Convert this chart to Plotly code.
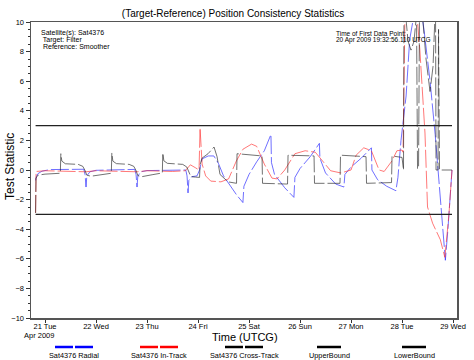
import pandas as pd
import plotly.graph_objects as go

# ---- data (time = fractional day of April 2009, UTCG) ----
radial_t = [20.815, 20.83, 20.86, 20.94, 21.1, 21.5, 21.76, 21.785, 21.804, 21.82, 21.88, 22.0,
            22.4, 22.76, 22.785, 22.804, 22.82, 22.88, 23.0, 23.4, 23.76, 23.785, 23.804, 23.82,
            23.88, 23.98, 24.03, 24.08, 24.2, 24.31, 24.4, 24.5, 24.65, 24.76, 24.88, 24.9, 25.0,
            25.15, 25.3, 25.43, 25.44, 25.5, 25.7, 25.88, 25.9, 26.0, 26.2, 26.38, 26.39, 26.5,
            26.7, 26.86, 26.88, 27.0, 27.2, 27.4, 27.41, 27.52, 27.7, 27.88, 27.92, 27.98, 28.08,
            28.15, 28.25, 28.35, 28.43, 28.55, 28.65, 28.75, 28.85, 28.9, 28.98]
radial_v = [-0.7, -0.45, -0.25, -0.08, 0.03, 0.05, 0.05, -0.3, -1.15, -0.4, -0.12, -0.02,
            0.03, 0.04, -0.3, -1.15, -0.4, -0.12, -0.04, 0.0, 0.0, -0.4, -1.55, -0.7,
            -0.45, -0.4, 0.0, 0.75, 0.95, 0.95, 0.45, -0.4, -1.2, -1.7, -2.2, -1.1, -0.3,
            0.55, 1.3, 2.4, 0.5, -0.3, -1.2, -1.85, -0.5, 0.1, 0.9, 1.8, 0.8, -0.2,
            -0.95, -1.15, -0.3, 0.2, 0.8, 1.5, 0.0, -0.65, -1.1, -1.4, -0.5, 2.0, 5.0,
            8.8, 10.8, 11.5, 9.5, 6.0, 2.4, -2.0, -6.1, -4.0, 0.0]

intrack_t = [20.815, 20.825, 21.0, 21.5, 21.8, 22.0, 22.5, 22.8, 23.0, 23.5, 23.75, 23.85,
             23.95, 24.02, 24.04, 24.08, 24.15, 24.25, 24.45, 24.6, 24.75, 24.88, 25.05, 25.15,
             25.3, 25.45, 25.55, 25.7, 25.9, 26.1, 26.3, 26.45, 26.6, 26.8, 27.0, 27.1, 27.25,
             27.4, 27.55, 27.65, 27.8, 27.9, 28.0, 28.02, 28.06, 28.28, 28.35, 28.45, 28.5,
             28.6, 28.75, 28.84, 28.92, 28.98]
intrack_v = [-2.9, -0.1, -0.05, -0.1, -0.12, -0.05, -0.1, -0.12, -0.05, -0.1, -0.05, 0.35,
             0.15, 0.0, 2.85, 0.4, -0.4, -0.75, -0.8, -0.6, 0.6, 1.4, 1.75, 1.6,
             0.4, -0.55, -0.6, 0.0, 1.1, 1.3, 1.2, 0.6, -0.05, -0.2, 0.0, 1.0, 1.5,
             1.3, 0.0, -0.1, 0.6, 1.3, 1.35, 1.2, 11.0, 11.0, 8.1, 2.5, -2.5,
             -3.6, -4.7, -5.9, -3.0, 0.0]

crosstrack_t = [20.815, 20.823, 20.86, 21.0, 21.30, 21.31, 21.33, 21.40, 21.65, 21.74, 21.78, 21.82,
                21.90, 22.10, 22.30, 22.31, 22.33, 22.40, 22.65, 22.74, 22.78, 22.82, 22.90, 23.10,
                23.30, 23.31, 23.33, 23.40, 23.70, 23.78, 23.82, 23.86, 23.95, 24.03, 24.04, 24.078,
                24.196, 24.314, 24.373, 24.431, 24.588, 24.755, 24.765, 25.255, 25.265, 25.755,
                25.765, 26.275, 26.284, 26.784, 26.794, 27.294, 27.304, 27.794, 27.804, 28.0,
                28.029, 28.039, 28.078, 28.118, 28.176, 28.235, 28.284, 28.304, 28.324, 28.343,
                28.412, 28.471, 28.549, 28.608, 28.647, 28.657, 28.667, 28.706, 28.716, 28.735, 28.98]
crosstrack_v = [-2.9, -0.55, -0.35, -0.28, -0.22, 1.1, 0.6, 0.42, 0.38, 0.25, 0.0, -0.35,
                -0.42, -0.3, -0.22, 1.15, 0.6, 0.43, 0.38, 0.25, 0.0, -0.38, -0.45, -0.32,
                -0.2, 1.15, 0.62, 0.45, 0.38, 0.2, -0.1, -0.45, -0.48, -0.5, 0.35, 0.8,
                1.1, 1.55, 0.9, -0.3, -0.8, -0.9, 1.1, 0.95, -0.9, -0.95,
                1.0, 0.95, -0.9, -0.9, 1.0, 0.9, -0.9, -0.85, 0.95, 0.85,
                0.0, 11.0, 10.2, 8.7, 8.1, 8.7, 10.5, 0.1, 0.1, 11.0,
                10.0, 7.5, 5.3, 7.0, 10.5, 11.0, 0.0, 0.0, 9.5, 0.0, 0.0]

bound_t = [20.815, 28.98]
upper_v = [3, 3]
lower_v = [-3, -3]

tick_days = [21, 22, 23, 24, 25, 26, 27, 28, 29]
tick_labels = ["21 Tue", "22 Wed", "23 Thu", "24 Fri", "25 Sat", "26 Sun", "27 Mon", "28 Tue", "29 Wed"]
x_range_days = [20.725, 29.078]

legend_names = ["Sat4376 Radial", "Sat4376 In-Track", "Sat4376 Cross-Track", "UpperBound", "LowerBound"]
legend_colors = ["#0000ff", "#ff0000", "#000000", "#000000", "#000000"]


def to_dt(days):
    base = pd.Timestamp("2009-04-01")
    return [base + pd.to_timedelta(d - 1, unit="D") for d in days]


FONT = "Liberation Sans, Arial, sans-serif"
DASH = "18px,3px"

fig = go.Figure()
fig.add_trace(go.Scatter(x=to_dt(radial_t), y=radial_v, mode="lines", name=legend_names[0],
                         line=dict(color="rgba(40,40,255,0.75)", width=0.9, dash=DASH)))
fig.add_trace(go.Scatter(x=to_dt(intrack_t), y=intrack_v, mode="lines", name=legend_names[1],
                         line=dict(color="rgba(255,40,40,0.7)", width=0.9, dash=DASH)))
fig.add_trace(go.Scatter(x=to_dt(crosstrack_t), y=crosstrack_v, mode="lines", name=legend_names[2],
                         line=dict(color="rgba(30,30,30,0.7)", width=0.9, dash=DASH)))
fig.add_trace(go.Scatter(x=to_dt(bound_t), y=upper_v, mode="lines", name=legend_names[3],
                         line=dict(color="#222222", width=1.4)))
fig.add_trace(go.Scatter(x=to_dt(bound_t), y=lower_v, mode="lines", name=legend_names[4],
                         line=dict(color="#222222", width=1.4)))

# pixel -> paper helpers for layout decorations
L, R, T, B = 31, 457, 22, 318


def px(x):
    return (x - L) / (R - L)


def py(y):
    return (B - y) / (B - T)


annotations = [
    dict(text="Test Statistic", x=px(10), y=py(167), textangle=-90, font=dict(size=12)),
    dict(text="Time (UTCG)", x=px(245), y=py(337), font=dict(size=11)),
    dict(text="Apr 2009", x=px(39), y=py(335), font=dict(size=7.5)),
    dict(text="Satellite(s): Sat4376", x=px(39), y=py(33), xanchor="left", font=dict(size=7)),
    dict(text=" Target: Filter", x=px(39), y=py(40), xanchor="left", font=dict(size=7)),
    dict(text=" Reference: Smoother", x=px(39), y=py(47), xanchor="left", font=dict(size=7)),
    dict(text="Time of First Data Point:", x=px(334), y=py(33), xanchor="left", font=dict(size=6.5)),
    dict(text="20 Apr 2009 19:32:56.110 UTCG", x=px(334), y=py(40), xanchor="left", font=dict(size=6.5)),
]
shapes = []
legend_text_x = [74, 159, 244, 329, 414]
legend_segments = [
    [(55, 73), (75, 93)],
    [(140, 158), (160, 178)],
    [(225, 243), (245, 263)],
    [(317, 341)],
    [(402, 426)],
]
for name, color, cx, segs in zip(legend_names, legend_colors, legend_text_x, legend_segments):
    annotations.append(dict(text=name, x=px(cx), y=py(355), font=dict(size=7.3)))
    for a, b in segs:
        shapes.append(dict(type="line", xref="paper", yref="paper", x0=px(a), x1=px(b),
                           y0=py(347), y1=py(347), line=dict(color=color, width=2.5)))

for a in annotations:
    a.setdefault("xref", "paper")
    a.setdefault("yref", "paper")
    a.setdefault("showarrow", False)
    a.setdefault("xanchor", "center")
    a.setdefault("yanchor", "middle")
    a["font"].setdefault("color", "#000")
    a["font"].setdefault("family", FONT)

fig.update_layout(
    width=474, height=360,
    margin=dict(l=L, r=474 - R, t=T, b=360 - B, autoexpand=False),
    paper_bgcolor="white", plot_bgcolor="white",
    showlegend=False,
    font=dict(family=FONT, color="#000"),
    title=dict(text="(Target-Reference) Position Consistency Statistics", x=233 / 474, xref="container",
               xanchor="center", y=1 - 13 / 360, yref="container", yanchor="middle",
               font=dict(size=10, family=FONT, color="#000")),
    annotations=annotations,
    shapes=shapes,
)
fig.update_xaxes(
    type="date", range=to_dt(x_range_days),
    tickvals=to_dt(tick_days), ticktext=tick_labels,
    ticks="outside", ticklen=3, tickwidth=1, tickcolor="#333",
    ticklabelstandoff=-3,
    showline=True, mirror=True, linecolor="#555", linewidth=1.5,
    showgrid=False, zeroline=False, tickfont=dict(size=7.5, family=FONT, color="#000"),
)
fig.update_yaxes(
    range=[-10, 10], tickvals=[-10, -8, -6, -4, -2, 0, 2, 4, 6, 8, 10],
    ticks="outside", ticklen=4, tickwidth=1, tickcolor="#333",
    minor=dict(dtick=0.5, ticks="outside", ticklen=2, tickcolor="#333", showgrid=False),
    showline=True, mirror=True, linecolor="#555", linewidth=1.5,
    showgrid=False, zeroline=False, tickfont=dict(size=7.5, family=FONT, color="#000"),
)

fig.write_html("out.html", config={"displayModeBar": False, "staticPlot": True},
               post_script="document.body.style.margin='0';document.body.style.overflow='hidden';")
